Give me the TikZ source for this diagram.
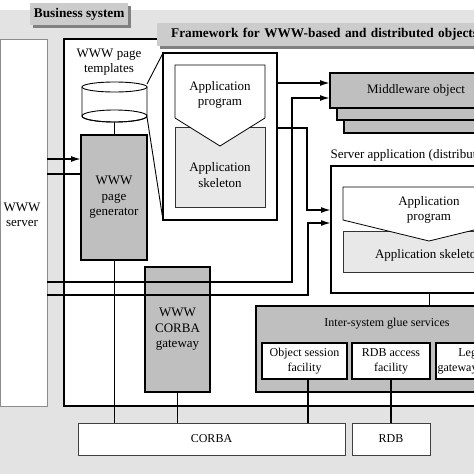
\documentclass[tikz,border=0pt]{standalone}
\usepackage{fontspec}
\setmainfont{Liberation Serif}
\usetikzlibrary{arrows.meta,calc,shadows}
\definecolor{bggray}{gray}{0.89}
\definecolor{boxgray}{gray}{0.75}
\definecolor{skelgray}{gray}{0.91}
\definecolor{taggray}{gray}{0.80}
\definecolor{shadegray}{gray}{0.50}

\begin{document}
\begin{tikzpicture}[x=1pt,y=-1pt,
  font=\fontsize{13}{15.5}\selectfont,
  plainbox/.style={draw,anchor=north west,inner sep=0pt,outer sep=0pt,align=center},
  heavybox/.style={plainbox,line width=1.6pt},
  graybox/.style={heavybox,fill=boxgray},
  facilitybox/.style={plainbox,line width=1.2pt,fill=white,font=\fontsize{12}{15}\selectfont},
  basebox/.style={plainbox,draw=black!75,line width=0.8pt,fill=white,font=\fontsize{12}{15}\selectfont},
  tagbox/.style={anchor=north west,inner sep=0pt,fill=taggray,font=\fontsize{13.3}{15}\selectfont\bfseries,
    drop shadow={shadow xshift=3pt,shadow yshift=-3pt,fill=shadegray,opacity=1}},
  partoutline/.style={draw,line width=0.8pt},
  link/.style={line width=1.6pt},
  thinlink/.style={line width=0.9pt},
  arrowlink/.style={link,-{Latex[length=10pt,width=6pt]}}]
\useasboundingbox (0,0) rectangle (474,474);
\clip (0,0) rectangle (474,474);
\fill[bggray] (0,10) rectangle (474,474);

\node[tagbox,minimum width=98pt,minimum height=22pt] (bstag) at (30,3) {Business system};

\node[plainbox,draw=black!45,line width=0.8pt,fill=white,minimum width=47pt,minimum height=367pt] (server) at (0,39) {};
\node[align=center] (servertxt) at (22,215) {WWW\\server};

\node[heavybox,fill=white,minimum width=470pt,minimum height=367pt] (frame) at (64,39) {};
\node[tagbox,minimum height=23pt,inner xsep=14pt,text width=320pt,align=left] (fwtag) at (157,23) {Framework for WWW-based and distributed objects};

\node[heavybox,fill=white,minimum width=114pt,minimum height=167pt] (fw) at (163,53) {};
\node[plainbox,draw=black!80,line width=0.8pt,fill=skelgray,minimum width=90pt,minimum height=80pt] (skel) at (175,127) {};
\node[align=center] (skeltxt) at (220,175) {Application\\skeleton};
\draw[partoutline,fill=white] (175,65) -- (265,65) -- (265,118) -- (220,146) -- (175,118) -- cycle;
\node[align=center] (prog) at (220,95) {Application\\program};

\node[align=center] (tpltxt) at (109,62) {WWW page\\templates};
\draw[thinlink,fill=white] (82,87) -- (82,116) arc[start angle=180,end angle=360,x radius=32.5,y radius=-6] -- (147,87);
\draw[thinlink,fill=white] (114.5,87) ellipse [x radius=32.5,y radius=5];
\draw[thinlink] (114.5,116) ellipse [x radius=32.5,y radius=6];
\coordinate (tplbase) at (114,122);
\coordinate (tplne) at (147,84);
\coordinate (tplse) at (147,117);

\node[graybox,minimum width=66pt,minimum height=125pt] (gen) at (81,135) {WWW\\page\\generator};
\node[graybox,minimum width=65pt,minimum height=125pt] (gw) at (145,267) {WWW\\CORBA\\gateway};

\node[graybox,minimum width=172pt,minimum height=35pt] (mw3) at (344,98) {};
\node[graybox,minimum width=172pt,minimum height=35pt] (mw2) at (337,85) {};
\node[graybox,minimum width=172pt,minimum height=35pt] (mw) at (330,73) {Middleware object};

\node[anchor=west] (sapptxt) at (327,155) {Server application (distributed objects)};
\node[heavybox,fill=white,minimum width=196pt,minimum height=127pt] (sapp) at (331,166) {};
\node[plainbox,draw=black!80,line width=0.8pt,fill=skelgray,minimum width=172pt,minimum height=41pt] (skel2) at (343,231) {};
\node (skel2txt) at (429,255) {Application skeleton};
\draw[partoutline,fill=white] (343,187) -- (515,187) -- (515,220) -- (429,241) -- (343,220) -- cycle;
\node[align=center] (prog2) at (429,210) {Application\\program};

\node[graybox,minimum width=265pt,minimum height=86pt] (glue) at (256,306) {};
\node[font=\fontsize{12}{15}\selectfont] (gluetxt) at (387,324) {Inter-system glue services};
\node[facilitybox,minimum width=85pt,minimum height=36pt] (osf) at (262,343) {Object session\\facility};
\node[facilitybox,minimum width=78pt,minimum height=36pt] (rdbf) at (352,343) {RDB access\\facility};
\node[facilitybox,minimum width=80pt,minimum height=36pt] (lgf) at (436,343) {Legacy\\gateway facility};

\node[basebox,minimum width=267pt,minimum height=32pt] (corba) at (78,423) {CORBA};
\node[basebox,minimum width=78pt,minimum height=32pt] (rdb) at (352,423) {RDB};

\draw[thinlink] (tplne) -- (fw.north west);
\draw[thinlink] (tplse) -- (fw.south west);
\draw[thinlink] (tplbase) -- (gen.north);
\draw[thinlink] (gen.south) -- (gen.south |- corba.north);
\draw[thinlink] (gw.south) -- (gw.south |- corba.north);
\draw[link] ([xshift=3.5pt]osf.south) -- ([xshift=3.5pt]osf.south |- corba.north);
\draw[link] (rdbf.south) -- (rdb.north);
\draw[thinlink] (sapp.south) -- (sapp.south |- glue.north);

\draw[arrowlink] (server.east |- 0,159) -- (gen.west |- 0,159);
\draw[link,line width=1.2pt] (gen.west |- 0,174) -- (server.east |- 0,174);
\draw[arrowlink] (server.east |- 0,282) -| (292,98) -- (mw.west |- 0,98);
\draw[arrowlink] (server.east |- 0,295) -| (308,223) -- (sapp.west |- 0,223);
\draw[arrowlink] (fw.east |- 0,83) -- (mw.west |- 0,83);
\draw[arrowlink] (fw.east |- 0,128) -| (307,210) -- (sapp.west |- 0,210);
\end{tikzpicture}
\end{document}
